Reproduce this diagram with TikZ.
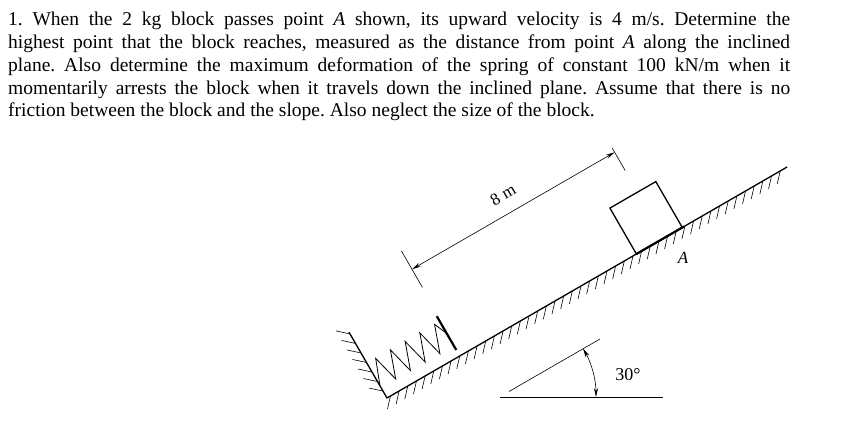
\documentclass[tikz,border=0pt]{standalone}
\usepackage{fontspec}
\setmainfont{Liberation Serif}
\usetikzlibrary{arrows.meta}
\tikzset{
  txt/.style={anchor=base west,inner sep=0pt,font=\fontsize{19.5}{22}\selectfont},
  thickline/.style={line width=1.3pt},
  hatch/.style={line width=0.6pt},
  dim/.style={line width=0.6pt},
}
\frenchspacing
\newcommand{\jline}[1]{\makebox[782pt][s]{#1}}
\begin{document}
\begin{tikzpicture}[x=1pt,y=1pt]
\useasboundingbox (0,0) rectangle (852,436);
\node[txt] (l1) at (8,410) {\jline{1. When the 2 kg block passes point \textit{A} shown, its upward velocity is 4 m/s. Determine the}};
\node[txt] (l2) at (8,387.25) {\jline{highest point that the block reaches, measured as the distance from point \textit{A} along the inclined}};
\node[txt] (l3) at (8,364.5) {\jline{plane. Also determine the maximum deformation of the spring of constant 100 kN/m when it}};
\node[txt] (l4) at (8,341.75) {\jline{momentarily arrests the block when it travels down the inclined plane. Assume that there is no}};
\node[txt] (l5) at (8,319) {friction between the block and the slope. Also neglect the size of the block.};
\begin{scope}[shift={(387,38)},rotate=30]
  \coordinate (C) at (0,0);
  \coordinate (T) at (462,0);
  \coordinate (W) at (0,76);
  \draw[thickline] (W) -- (C) -- (T);
  \foreach \s in {4,14,...,460} \draw[hatch] (\s,0) -- ++(-9.1,-9.8);
  \foreach \s in {8,19,...,76} \draw[hatch] (0,\s) -- ++(-10.6,9.6);
  % block
  \draw[thickline] (288,0) rectangle (341,53);
  \draw[line width=2.2pt] (288,0) -- (343,0);
  % spring
  \draw[line width=0.8pt] (0,14) -- (10,40) -- (17,12) -- (27,40) -- (34,12) -- (44,40) -- (51,12) -- (61,40) -- (68,12) -- (78,40) -- (84,26);
  \draw[line width=2.2pt] (84,7) -- (84,46);
  % dimension
  \draw[dim] (86,78) -- (86,120);
  \draw[dim] (320,78) -- (320,104);
  \coordinate (d1) at (86,99);
  \coordinate (d2) at (320,99);
  \draw[dim,{Stealth[length=9pt,width=4pt]}-{Stealth[length=9pt,width=4pt]}] (d1) -- (d2);
  \node[rotate=30,font=\fontsize{17}{20}\selectfont] (lab) at (202,118) {8 m};
\end{scope}
\node[font=\fontsize{17}{20}\selectfont\itshape] (A) at (683,178) {A};
% angle
\coordinate (V) at (499,39);
\draw[dim] (500,39) -- (663,39);
\draw[dim] (509,44.5) -- (600,97);
\draw[dim,{Stealth[length=9pt,width=4pt]}-{Stealth[length=9pt,width=4pt]}] ([shift={(30:97)}]V) arc[start angle=30,end angle=0,radius=97];
\node[font=\fontsize{18}{20}\selectfont] (ang) at (628,61) {30°};
\end{tikzpicture}
\end{document}
